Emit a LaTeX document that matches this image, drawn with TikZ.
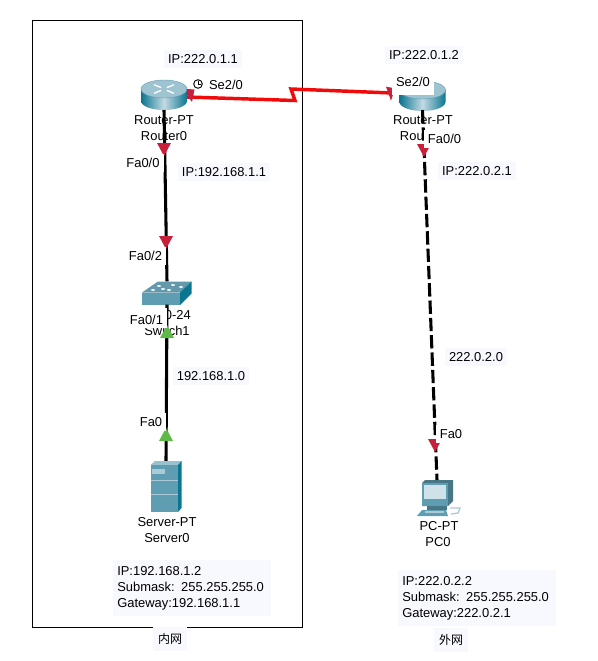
\documentclass[tikz,border=0pt]{standalone}
\usepackage{fontspec}
\setmainfont{Liberation Sans}
\newfontfamily\cjkfont{Noto Sans CJK SC}
\definecolor{ghostbox}{HTML}{F8F8FF}
\definecolor{linkred}{HTML}{C8203A}
\definecolor{linkgreen}{HTML}{5FB946}
\definecolor{serialred}{HTML}{F00A0A}
\definecolor{devteal}{HTML}{5F9DB3}
\definecolor{devdark}{HTML}{0B7690}
\definecolor{devlight}{HTML}{A9CAD6}
\usetikzlibrary{positioning}

\begin{document}
\begin{tikzpicture}[x=0.75pt, y=-0.75pt, every node/.style={font=\fontsize{9.7}{12}\selectfont}]
  \tikzset{devbox/.style={minimum width=#1, inner sep=0pt, outer sep=0pt},
           devtext/.style={inner sep=0pt, align=center},
           ipbox/.style={fill=ghostbox, inner xsep=3pt, inner ysep=3.5pt},
           portbox/.style={fill=white, inner xsep=3pt, inner ysep=0pt, minimum height=14pt},
           infobox/.style={fill=ghostbox, anchor=north west, align=left, inner xsep=3pt, inner ysep=3pt,
                           text width=112pt, minimum height=42pt},
           netbox/.style={fill=ghostbox, minimum width=25.5pt, minimum height=18pt, inner sep=0pt, font=\cjkfont\fontsize{9}{11}\selectfont},
           blackline/.style={line width=2.3pt, black},
           pics/lightdown/.style={code={\fill[#1] (-7,-7) -- (7,-7) -- (0,6) -- cycle;}},
           pics/lightup/.style={code={\fill[#1] (-7,6) -- (7,6) -- (0,-7) -- cycle;}},
           pics/routericon/.style={code={
             \shade[left color=devdark, right color=devdark, middle color=devlight!70!white]
               (-23,-6) -- (-23,6) arc[start angle=180, end angle=0, x radius=23, y radius=9] -- (23,-6) -- cycle;
             \fill[devlight!85!devteal, draw=devteal, line width=.3pt] (0,-6) ellipse[x radius=23, y radius=9];
             \foreach \ang in {45,135,225,315}
               \draw[white, line width=1pt] (0,-6) ++(\ang:4 and 2) -- ++(\ang:10 and 4);
           }},
           pics/switchicon/.style={code={
             \fill[devteal!85!gray] (-25,-0.5) -- (-9,-11.5) -- (24.5,-11.5) -- (13,-0.5) -- cycle;
             \fill[devteal] (-25,-0.5) rectangle (13,12);
             \fill[devdark] (13,-0.5) -- (24.5,-11.5) -- (24.5,0.5) -- (13,12) -- cycle;
             \foreach \spotx/\spoty in {-8/-7,6/-8,-14/-3,2/-3,14/-6,-4/-4}
               \fill[white!85!devteal] (\spotx,\spoty) ellipse[x radius=2, y radius=1];
           }},
           pics/servericon/.style={code={
             \fill[devlight!80!devteal] (-15.5,-21.5) -- (-11,-25.5) -- (15.5,-25.5) -- (12,-21.5) -- cycle;
             \fill[devteal] (-15.5,-21.5) rectangle (12,25.5);
             \fill[devdark] (12,-21.5) -- (15.5,-25.5) -- (15.5,21.5) -- (12,25.5) -- cycle;
             \fill[devlight] (-14,-18) rectangle (-1,-13);
             \draw[devlight, line width=.4pt] (-15.5,-6) -- (12,-6) (-15.5,8) -- (12,8);
           }},
           pics/pcicon/.style={code={
             \fill[devteal!75!black] (-12,-22) -- (16,-22) -- (16,-1) -- (11,4) -- (-15,4) -- (-15,-19) -- cycle;
             \fill[devteal] (-15,-19) rectangle (11,4);
             \fill[devlight!55!white] (-13,-17) rectangle (9,-3);
             \fill[devteal!75!black] (-10,4) rectangle (10,8);
             \fill[devteal] (-20,14) -- (-15,8) -- (9,8) -- (11,14) -- cycle;
             \fill[devlight] (-12,9) rectangle (7,11);
             \draw[devlight, line width=1pt] (13,6) -- (23,6) -- (21,11) -- (14,12);
           }}}

  \useasboundingbox (0,0) rectangle (597,661);
  \draw[line width=0.6pt] (32,20) rectangle (302,627);

  \node[devbox=46] (router0) at (164,95) [minimum height=22.5pt] {};
  \node[devbox=46] (router1) at (422.5,96) [minimum height=21pt] {};
  \node[devbox=37.5pt] (switch1) at (167,293) [minimum height=17.5pt] {};
  \node[devbox=24pt] (server0) at (166,486.5) [minimum height=38.5pt] {};
  \node[devbox=30pt] (pc0) at (437,502) [minimum height=33pt] {};
  \pic at (router0) {routericon};
  \pic at (router1) {routericon};
  \pic at (switch1) {switchicon};
  \pic at (server0) {servericon};
  \pic at (pc0) {pcicon};

  \node[devtext] (r0type) at (164,120) {Router-PT};
  \node[devtext] (r0name) at (164,136) {Router0};
  \node[devtext] (r1type) at (423,120) {Router-PT};
  \node[devtext] (r1name) at (423,136) {Router0};
  \node[devtext] (s1type) at (167,315) {2950-24};
  \node[devtext] (s1name) at (167,331) {Switch1};
  \node[devtext] (srvtype) at (167,522) {Server-PT};
  \node[devtext] (srvname) at (167,538) {Server0};
  \node[devtext] (pctype) at (439,526) {PC-PT};
  \node[devtext] (pcname) at (438,542) {PC0};

  \coordinate (serialstart) at (187,97);
  \coordinate (serialkinka) at (295,100.5);
  \coordinate (serialkinkb) at (291,89);
  \coordinate (serialend) at (400,93.3);
  \draw[line width=2.6pt, serialred] (serialstart) -- (serialkinka) -- (serialkinkb) -- (serialend);
  \draw[blackline] (router0.south) -- (switch1.north);
  \draw[blackline] (switch1.south) -- (server0.north);
  \draw[blackline, dash pattern=on 10pt off 3pt] (router1.south) -- (pc0.north);

  \fill[linkred] (186.7,89) -- (194.5,89.5) -- (192,102) -- (187,95) -- cycle;
  \fill[linkred] (386,86.7) -- (395,88.3) -- (391,100.7) -- cycle;
  \pic at (164,150) {lightdown=linkred};
  \pic at (166,243) {lightdown=linkred};
  \pic at (424,151) {lightdown=linkred};
  \pic at (435,446) {lightdown=linkred};
  \pic at (167,332) {lightup=linkgreen};
  \pic at (166,435) {lightup=linkgreen};

  \node[ipbox] (ipa) at (203,59) {IP:222.0.1.1};
  \node[ipbox] (ipb) at (424,55) {IP:222.0.1.2};
  \node[ipbox] (ipc) at (224,172) {IP:192.168.1.1};
  \node[ipbox] (ipd) at (477,171) {IP:222.0.2.1};
  \node[ipbox] (nete) at (211,376) {192.168.1.0};
  \node[ipbox] (netf) at (476,357) {222.0.2.0};

  \node[portbox] (pa) at (226,85) {Se2/0};
  \draw[line width=.7pt] (198,84) circle[radius=4.3];
  \draw[line width=.5pt] (198,81) -- (198,84) -- (200.5,84);
  \node[portbox, minimum width=31.5pt, minimum height=15pt, inner xsep=0pt] (pb) at (413,85) {};
  \node[devtext] at (413,82) {Se2/0};
  \node[portbox] (pc) at (143,163) {Fa0/0};
  \node[portbox] (pd) at (444.5,139) {Fa0/0};
  \node[portbox] (pe) at (145.5,256) {Fa0/2};
  \node[portbox, minimum width=30pt, minimum height=15pt, inner xsep=0pt] (pf) at (147,318) {};
  \node[devtext] at (146.5,320) {Fa0/1};
  \node[portbox] (pg) at (151,422) {Fa0};
  \node[portbox] (ph) at (451,434) {Fa0};

  \node[infobox] (infoa) at (113,560) {IP:192.168.1.2\\Submask: 255.255.255.0\\Gateway:192.168.1.1};
  \node[infobox] (infob) at (398,570) {IP:222.0.2.2\\Submask: 255.255.255.0\\Gateway:222.0.2.1};
  \node[netbox] (inner) at (170,639) {内网};
  \node[netbox] (outer) at (451,640) {外网};
\end{tikzpicture}
\end{document}
